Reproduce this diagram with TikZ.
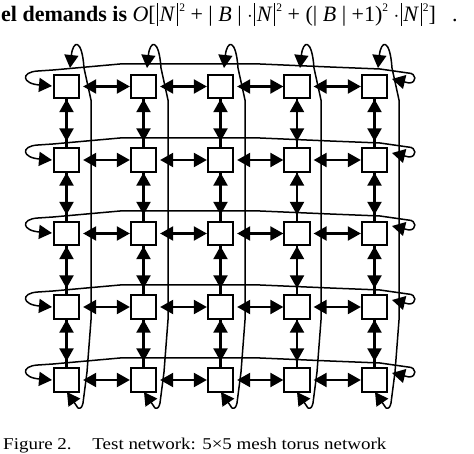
\documentclass[tikz,border=0pt]{standalone}
\usepackage{fontspec}
\setmainfont{Liberation Serif}
\usetikzlibrary{arrows.meta}
\newcommand{\mybar}{\hspace{1.5pt}\rule[-4pt]{0.9pt}{22.5pt}\hspace{1.5pt}}
\newcommand{\mysup}[1]{\raisebox{10.5pt}{\fontsize{11.5}{11.5}\selectfont #1}}
\tikzset{mytip/.tip={Triangle[length=13pt,width=14pt]}}
\begin{document}
\begin{tikzpicture}[x=1pt,y=-1pt,
  box/.style={draw,line width=1.8pt,minimum width=25.5pt,minimum height=23.5pt,inner sep=0pt,fill=white},
  nb/.style={line width=2.2pt},
  wrap/.style={line width=1.5pt,line join=round}]
\useasboundingbox (0,0) rectangle (474,454);

% title text
\node[anchor=base west,inner sep=0pt] (eq) at (1,22) {\fontsize{22}{22}\selectfont\bfseries el demands is \mdseries\textit{O}[\mybar\textit{N}\mybar\mysup{2} + | \textit{B} | $\cdot$\mybar\textit{N}\mybar\mysup{2} + (| \textit{B} | +1)\mysup{2} $\cdot$\mybar\textit{N}\mybar\mysup{2}]\hspace{16pt}.};

% caption
\node[anchor=base west,inner sep=0pt] (cap) at (3,449) {\scalebox{1.15}[1]{\fontsize{16.5}{16.5}\selectfont Figure 2.\hspace{18pt}Test network: 5×5 mesh torus network}};

% wrap-around lines: columns
\foreach \c/\L in {1/53,2/130,3/207,4/283,5/361}{
  \draw[wrap,mytip-mytip] (\L+14,392) -- (\L+25,408) .. controls (\L+28,409) and (\L+29,407) .. (\L+30,403)
     -- (\L+34,372) -- (\L+38,320) -- (\L+38,100) -- (\L+31,68)
     .. controls (\L+29,38) and (\L+20,40) .. (\L+17,68);
}
% wrap-around lines: rows
\foreach \r/\T in {1/74,2/148,3/221,4/295,5/368}{
  \draw[wrap,mytip-mytip] (52,\T+12) -- (40,\T+11) .. controls (22,\T+10) and (20,\T-2) .. (38,\T-3)
     -- (53,\T-4) -- (120,\T-10) -- (260,\T-10) -- (330,\T-7) -- (380,\T-5) -- (408,\T-1)
     .. controls (417,\T-1) and (417,\T+9) .. (409,\T+9) -- (392,\T+5);
}

% boxes
\foreach \r/\y in {1/86.5,2/160,3/233.5,4/307,5/380}{
  \foreach \c/\x in {1/66.5,2/143.5,3/220.5,4/297,5/374.5}{
    \node[box] (b-\r-\c) at (\x,\y) {};
  }
}

% horizontal neighbour arrows
\foreach \r in {1,...,5}{
  \foreach \c [evaluate=\c as \n using int(\c+1)] in {1,...,4}{
    \draw[nb,mytip-mytip,shorten <=3pt] (b-\r-\c.east) -- (b-\r-\n.west);
  }
}
% vertical neighbour arrows
\foreach \c in {1,...,5}{
  \foreach \r [evaluate=\r as \n using int(\r+1)] in {1,...,4}{
    \draw[nb] (b-\r-\c.south) -- (b-\n-\c.north);
    \draw[nb,mytip-mytip,shorten >=6pt] (b-\r-\c.south) -- (b-\n-\c.north);
  }
}
\end{tikzpicture}
\end{document}
